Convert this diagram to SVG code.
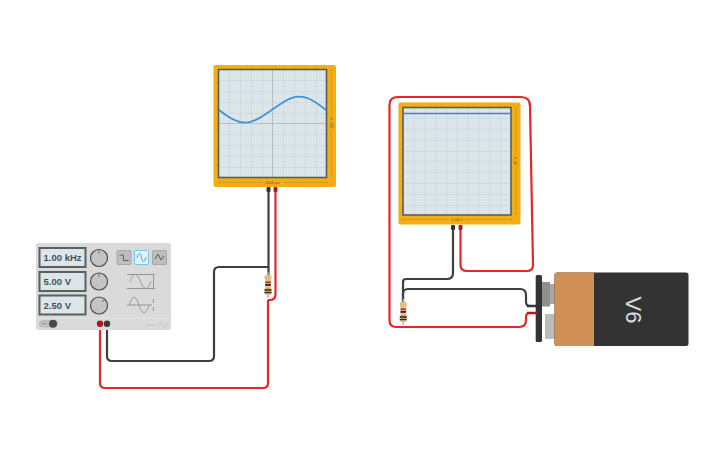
<svg xmlns="http://www.w3.org/2000/svg" width="725" height="453" viewBox="0 0 725 453">
<style>
.wr{fill:none;stroke:#e5262b;stroke-width:2.200;stroke-linejoin:round}
.wk{fill:none;stroke:#3f3f3f;stroke-width:2.200;stroke-linejoin:round}
.body{fill:#f2ae14}
.scrbg{fill:#dce6ea}
.scr{fill:none;stroke:#565f60;stroke-width:1.600}
.g{stroke:#cbd5d8;stroke-width:.7;fill:none}
.ga{stroke:#b4bdbc;stroke-width:.9;fill:none}
.rule{stroke:#c98f10;stroke-width:.6;fill:none}
.sl{font:4px "Liberation Sans",sans-serif;fill:#6b5a20}
.lcd{fill:#dce6ea;stroke:#5a5f5f;stroke-width:2}
.lt{font:bold 9.500px "Liberation Sans",sans-serif;fill:#465153}
.knob{fill:#c4c4c4;stroke:#4c4c4c;stroke-width:1.200}
.btn{fill:#bdbdbd;stroke:#9a9a9a;stroke-width:.7}
.ic{fill:none;stroke:#5e5e5e;stroke-width:1}
.icl{fill:none;stroke:#8f8f8f;stroke-width:.9}
.gr{fill:none;stroke:#bcbcbc;stroke-width:.8}
.lead{stroke:#b0b0b0;stroke-width:1.400}
.tan{fill:#dfc187}
</style>
<defs>
<path id="grid" class="g" d="M11 0V108M22 0V108M33 0V108M44 0V108M54 0V108M65 0V108M76 0V108M87 0V108M98 0V108M0 11H108M0 22H108M0 33H108M0 44H108M0 54H108M0 65H108M0 76H108M0 87H108M0 98H108"/>
<g id="res">
<line class="lead" x1="0" y1="-13" x2="0" y2="13"/>
<rect class="tan" x="-2.800" y="-10" width="5.600" height="20" rx="2"/>
<rect class="tan" x="-3.600" y="-10" width="7.200" height="5" rx="2"/>
<rect class="tan" x="-3.600" y="5" width="7.200" height="5" rx="2"/>
<rect x="-2.800" y="-3.600" width="5.600" height="1.800" fill="#e5202a"/>
<rect x="-2.800" y="-1" width="5.600" height="1.800" fill="#2a2a2a"/>
<rect x="-3.500" y="3.800" width="7" height="2.200" fill="#6d4420"/>
<rect x="-3.500" y="6.800" width="7" height="1.400" fill="#2a2a2a"/>
</g>
</defs>

<g id="connectors">
<path class="wk" d="M107 325V356Q107 361 112 361H209Q214 361 214 356V272Q214 267 219 267H268"/>
<path class="wk" d="M268.500 191V275"/>
<path class="wr" d="M100 325V383Q100 388 105 388H263Q268 388 268 383V300"/>
<path class="wr" d="M275.500 191V294Q275.500 300 270 300H268"/>
<path class="wk" d="M453 229V273Q453 279 447 279H406Q403 279 403 282V303"/>
<path class="wk" d="M403 303V294Q403 289 408 289H520Q526 289 526 295V302Q526 306 530 306H535"/>
<path class="wr" d="M460.500 229V265Q460.500 271 467 271H527Q533 271 533 265L530 106Q530 97 521 97H398Q389.500 97 389.500 105V320Q389.500 327 396 327H519Q526 327 526 320V317Q526 313 530 313H535"/>
</g>

<g id="scope1">
<rect class="body" x="213.500" y="65" width="122.500" height="122" rx="2"/>
<rect class="scrbg" x="218.500" y="69.500" width="108" height="108"/>
<use href="#grid" x="218.500" y="69.500"/>
<path class="ga" d="M272.500 69.500V177.500M218.500 123.500H326.500"/>
<rect class="scr" x="218.500" y="69.500" width="108" height="108"/>
<path d="M219 110C227 116.500 236 122.700 245 122.700C262 122.700 282 96.700 299 96.700C309 96.700 318 103.500 326 110" fill="none" stroke="#3b96d8" stroke-width="1.800"/>
<path class="rule" d="M219 182.500H262M284 182.500H327M219 181V184M327 181V184M331.500 70V118M331.500 130V176M330 70H333M330 176H333"/>
<text class="sl" x="272" y="184" text-anchor="middle">1000 µs</text>
<text class="sl" transform="translate(332.500 123) rotate(-90)" text-anchor="middle">200 V</text>
<rect x="266.500" y="187" width="4" height="5" rx="1" fill="#333"/>
<rect x="273.500" y="187" width="4" height="5" rx="1" fill="#a81c22"/>
</g>

<g id="resistor1"><use href="#res" x="268" y="285"/></g>

<g id="generator">
<rect x="36" y="243" width="135" height="87" rx="2" fill="#dadada"/>
<path d="M36 318H171" stroke="#e6e6e6" stroke-width=".8"/>
<rect class="lcd" x="39.500" y="248" width="46" height="19"/>
<rect class="lcd" x="39.500" y="272" width="46" height="19"/>
<rect class="lcd" x="39.500" y="295.500" width="46" height="19"/>
<text class="lt" x="43.500" y="260.500">1.00 kHz</text>
<text class="lt" x="43.500" y="284.500">5.00 V</text>
<text class="lt" x="43.500" y="308.500">2.50 V</text>
<circle class="knob" cx="99" cy="258" r="8.500"/>
<circle class="knob" cx="99" cy="281.500" r="8.500"/>
<circle class="knob" cx="99" cy="305.500" r="8.500"/>
<path d="M99 250.500V253.500M99 274V277M104 300L102 302" stroke="#666" stroke-width=".8"/>
<rect class="btn" x="117" y="250.500" width="14" height="14" rx="1"/>
<rect x="134.500" y="250.500" width="14" height="14" rx="1" fill="#e4f3f9" stroke="#6fc7ea" stroke-width="1"/>
<rect class="btn" x="152.500" y="250.500" width="14" height="14" rx="1"/>
<path class="ic" d="M119.500 255H123.500V260.500H128.500"/>
<path d="M137 258C138.500 252 140.500 252 141.500 257.500C142.500 263 144.500 263 146 257" fill="none" stroke="#3aa6d8" stroke-width="1"/>
<path class="ic" d="M155 259L158 254L161 260L164 256"/>
<path class="icl" d="M127 274.500H155M127 288.500H155M153.500 274.500V288.500M130 281.500C133 272.200 137 272.200 140.500 281.500C144 290.800 148 290.800 151 281.500"/>
<path class="icl" d="M127 305H152M129.500 305C132 295 136 295 139 305C142 315 146 315 149 305M153.500 299V303M153.500 307V311"/>
<rect x="39" y="320" width="19" height="7.500" rx="3.700" fill="#bdbdbd"/>
<circle cx="53" cy="323.700" r="4" fill="#4a4a4a"/>
<path d="M42 323.700H46" stroke="#888" stroke-width=".8"/>
<circle cx="100" cy="323.700" r="3.200" fill="#b3161e"/>
<circle cx="107" cy="323.700" r="3.200" fill="#3a3a3a"/>
<path class="gr" d="M145 325H156M158 325Q160 320 162 325T167 324"/>
</g>

<g id="scope2">
<rect class="body" x="398.500" y="102.500" width="122" height="122" rx="2"/>
<rect class="scrbg" x="403" y="107.500" width="108" height="107.500"/>
<use href="#grid" x="403" y="107.500"/>
<rect class="scr" x="403" y="107.500" width="108" height="107.500"/>
<line x1="403.500" y1="113.500" x2="510.500" y2="113.500" stroke="#3b86c8" stroke-width="1.600"/>
<path class="rule" d="M403 219.500H449M465 219.500H511M403 218V221M511 218V221M516 108V155M516 167V214M514.500 108H517.500M514.500 214H517.500"/>
<text class="sl" x="457" y="221" text-anchor="middle">1.00 s</text>
<text class="sl" transform="translate(517 161) rotate(-90)" text-anchor="middle">20 V</text>
<rect x="451" y="225" width="4" height="5" rx="1" fill="#333"/>
<rect x="458.500" y="225" width="4" height="5" rx="1" fill="#a81c22"/>
</g>

<g id="resistor2"><use href="#res" x="403.300" y="312"/></g>

<g id="battery">
<rect x="542" y="282" width="8" height="24.500" fill="#8f8f8f"/>
<rect x="550" y="284" width="5" height="20" fill="#a8a8a8"/>
<rect x="545" y="314" width="10" height="25" rx="1" fill="#bcbcbc"/>
<rect x="535.700" y="275" width="6.300" height="67" rx="1.500" fill="#333"/>
<rect x="554.500" y="272.500" width="134" height="73.500" rx="2.500" fill="#333"/>
<path d="M594 272.500H557Q554.500 272.500 554.500 275V343.500Q554.500 346 557 346H594Z" fill="#d08f54"/>
<text transform="translate(626 310) rotate(90)" text-anchor="middle" font-family="Liberation Sans,sans-serif" font-size="22" fill="#dedede">V6</text>
<path d="M527 306H537" stroke="#333" stroke-width="2.500"/>
<path d="M527 313H537" stroke="#a81c22" stroke-width="2.500"/>
</g>
</svg>
